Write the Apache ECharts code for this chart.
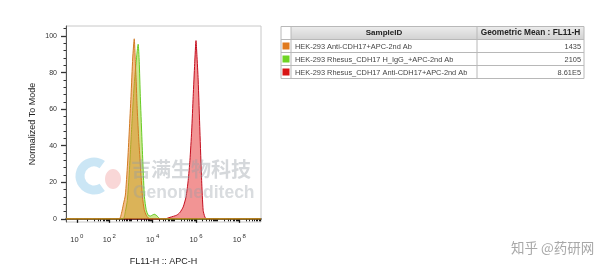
<!DOCTYPE html>
<html>
<head>
<meta charset="utf-8">
<script src="https://cdn.jsdelivr.net/npm/echarts@6/dist/echarts.min.js"></script>
<style>
html,body{margin:0;padding:0;background:#fff;}
#c{width:600px;height:275px;}
</style>
</head>
<body>
<div id="c"></div>
<script>
// X values are in display decades (FlowJo-like biexponential axis, 10^0 compressed)
var xTickPos = [0.5, 2, 4, 6, 8];
var xTickExp = ['0', '2', '4', '6', '8'];
var yTickVals = [0, 20, 40, 60, 80, 100];

// Histograms: [display decade, % of mode]
var orangeData = [[0,0],[2.46,0],[2.56,3],[2.65,8],[2.74,13],[2.84,30],[2.92,48],[3.00,67],[3.08,88],[3.15,98.5],[3.20,86],[3.24,75],[3.28,62],[3.35,45],[3.43,30],[3.53,12],[3.61,5],[3.70,2],[3.79,0.5],[3.89,0],[9,0]];
var greenData = [[0,0],[2.63,0],[2.74,4],[2.83,10],[2.92,25],[3.01,45],[3.06,56],[3.14,72],[3.20,81],[3.27,90],[3.33,95.5],[3.38,86],[3.43,67],[3.50,45],[3.55,30],[3.62,12],[3.70,5],[3.79,2],[3.89,1.5],[3.98,2],[4.07,2.5],[4.16,2],[4.25,1],[4.34,0],[9,0]];
var redData = [[0,0],[4.57,0],[4.80,0.8],[5.11,2],[5.26,3.5],[5.41,6.5],[5.54,12],[5.64,21],[5.72,32],[5.80,48],[5.87,67],[5.94,85],[6.00,97.5],[6.04,90],[6.10,76],[6.18,48],[6.26,21],[6.33,4.6],[6.41,1],[6.49,0],[9,0]];

// Table contents
var sampleIds = ['HEK-293 Anti-CDH17+APC-2nd Ab', 'HEK-293 Rhesus_CDH17 H_IgG_+APC-2nd Ab', 'HEK-293 Rhesus_CDH17 Anti-CDH17+APC-2nd Ab'];
var geoMeans = ['1435', '2105', '8.61E5'];
var swatchColors = ['#e07a1e', '#6fd424', '#d81414'];

// minor tick positions (log spacing within each decade)
var xMinor = [];
for (var d = 1; d < 9; d++) {
  for (var k = 1; k <= 9; k++) {
    var p = d + Math.log10(k);
    if (p > 0.6 && p < 9) xMinor.push(p);
  }
}
var yMinor = [];
for (var v = 0; v <= 104; v += 4) yMinor.push(v);

var chart = echarts.init(document.getElementById('c'), null, {renderer: 'canvas'});
var FONT = 'Liberation Sans, Arial, sans-serif';

// table graphics
var tX = 281, tW = 303, c1 = 291, c2 = 477, tY = 26.5, hH = 13, rH = 13;
var g = [];
g.push({type:'rect', shape:{x:c1, y:tY, width:tX+tW-c1, height:hH}, style:{fill:new echarts.graphic.LinearGradient(0,0,0,1,[{offset:0,color:'#ececec'},{offset:1,color:'#d2d2d2'}])}, z:10});
g.push({type:'text', style:{text:'SampleID', x:(c1+c2)/2, y:tY+hH/2, align:'center', verticalAlign:'middle', font:'bold 8px '+FONT, fill:'#222'}, z:11});
g.push({type:'text', style:{text:'Geometric Mean : FL11-H', x:(c2+tX+tW)/2, y:tY+hH/2, align:'center', verticalAlign:'middle', font:'bold 8.3px '+FONT, fill:'#222'}, z:11});
for (var i = 0; i < sampleIds.length; i++) {
  var ry = tY + hH + i*rH;
  g.push({type:'rect', shape:{x:tX+1.5, y:ry+3, width:7, height:7}, style:{fill:swatchColors[i]}, z:11});
  g.push({type:'text', style:{text:sampleIds[i], x:c1+4, y:ry+rH/2+0.5, align:'left', verticalAlign:'middle', font:'7.4px '+FONT, fill:'#444'}, z:11});
  g.push({type:'text', style:{text:geoMeans[i], x:tX+tW-3, y:ry+rH/2+0.5, align:'right', verticalAlign:'middle', font:'7.4px '+FONT, fill:'#444'}, z:11});
}
// grid lines of table
var tH = hH + rH*sampleIds.length;
var lines = [];
for (var j = 0; j <= sampleIds.length+1; j++) {
  var yy = j === 0 ? tY : tY + hH + (j-1)*rH;
  lines.push([tX, yy, tX+tW, yy]);
}
[tX, c1, c2, tX+tW].forEach(function(xx){ lines.push([xx, tY, xx, tY+tH]); });
lines.forEach(function(l){
  g.push({type:'line', shape:{x1:l[0], y1:l[1], x2:l[2], y2:l[3]}, style:{stroke:'#b8b8b8', lineWidth:1}, z:12});
});

// watermark
g.push({type:'arc', shape:{cx:94, cy:176, r:14, startAngle:Math.PI*0.3, endAngle:Math.PI*1.7, clockwise:true}, style:{stroke:'rgba(130,195,230,0.42)', lineWidth:9, fill:null}, z:20});
g.push({type:'ellipse', shape:{cx:113, cy:179, rx:8, ry:10}, style:{fill:'rgba(240,150,150,0.38)'}, z:20});
g.push({type:'text', style:{text:'吉满生物科技', x:131, y:169, align:'left', verticalAlign:'middle', font:'bold 20px "Noto Sans CJK SC", sans-serif', fill:'rgba(150,158,165,0.40)'}, z:20});
g.push({type:'text', style:{text:'Genomeditech', x:133, y:193, align:'left', verticalAlign:'middle', font:'bold 17.5px "Liberation Sans", Arial, sans-serif', fill:'rgba(150,158,165,0.36)'}, z:20});
g.push({type:'text', style:{text:'知乎 @药研网', x:511, y:248, align:'left', verticalAlign:'middle', font:'13.5px "Noto Sans CJK SC", sans-serif', fill:'#a8a8a8'}, z:20});

function xLabel(v) {
  var best = 0;
  for (var i = 0; i < xTickPos.length; i++) if (Math.abs(xTickPos[i]-v) < Math.abs(xTickPos[best]-v)) best = i;
  return '{b|10}{s|' + xTickExp[best] + '}';
}

var option = {
  animation: false,
  backgroundColor: '#fff',
  textStyle: {fontFamily: FONT},
  grid: {left: 66, top: 26, right: 339, bottom: 53, show: true, borderColor: '#c8c8c8', borderWidth: 1, containLabel: false},
  xAxis: [
    {type:'value', min:0, max:9,
     name:'FL11-H :: APC-H', nameLocation:'middle', nameGap:35, nameTextStyle:{fontSize:9, color:'#222', fontFamily:FONT},
     axisLine:{show:true, lineStyle:{color:'#111', width:1.5}},
     axisTick:{show:true, customValues:xTickPos, length:4, lineStyle:{color:'#111', width:1.3}},
     axisLabel:{show:true, customValues:xTickPos, margin:11, formatter:xLabel,
       rich:{b:{fontSize:7.5, color:'#333', fontFamily:FONT}, s:{fontSize:6, color:'#333', fontFamily:FONT, padding:[0,0,7,1.5]}}},
     splitLine:{show:false}},
    {type:'value', min:0, max:9, position:'bottom',
     axisLine:{show:false},
     axisTick:{show:true, customValues:xMinor, length:2.5, lineStyle:{color:'#111', width:1}},
     axisLabel:{show:false}, splitLine:{show:false}}
  ],
  yAxis: [
    {type:'value', min:-1.75, max:105.5,
     name:'Normalized To Mode', nameLocation:'middle', nameGap:29, nameTextStyle:{fontSize:9, color:'#222', fontFamily:FONT},
     axisLine:{show:true, lineStyle:{color:'#555', width:1}},
     axisTick:{show:true, customValues:yTickVals, length:5, lineStyle:{color:'#333', width:1.3}},
     axisLabel:{show:true, customValues:yTickVals, margin:9, fontSize:7, color:'#333', fontFamily:FONT},
     splitLine:{show:false}},
    {type:'value', min:-1.75, max:105.5, position:'left', offset:0,
     axisLine:{show:false},
     axisTick:{show:true, customValues:yMinor, length:2.5, lineStyle:{color:'#333', width:1}},
     axisLabel:{show:false}, splitLine:{show:false}}
  ],
  series: [
    {type:'line', data:redData, xAxisIndex:0, yAxisIndex:0, showSymbol:false, smooth:0.2,
     lineStyle:{color:'#c40d1e', width:1}, areaStyle:{color:'#e83c3c', opacity:0.55}, z:2},
    {type:'line', data:greenData, xAxisIndex:0, yAxisIndex:0, showSymbol:false, smooth:0.2,
     lineStyle:{color:'#66cc22', width:1}, areaStyle:{color:'#9ccc22', opacity:0.5}, z:3},
    {type:'line', data:orangeData, xAxisIndex:0, yAxisIndex:0, showSymbol:false, smooth:0.2,
     lineStyle:{color:'#d27a22', width:1}, areaStyle:{color:'#e88a2a', opacity:0.55}, z:4}
  ],
  graphic: g
};
chart.setOption(option);
</script>
</body>
</html>
